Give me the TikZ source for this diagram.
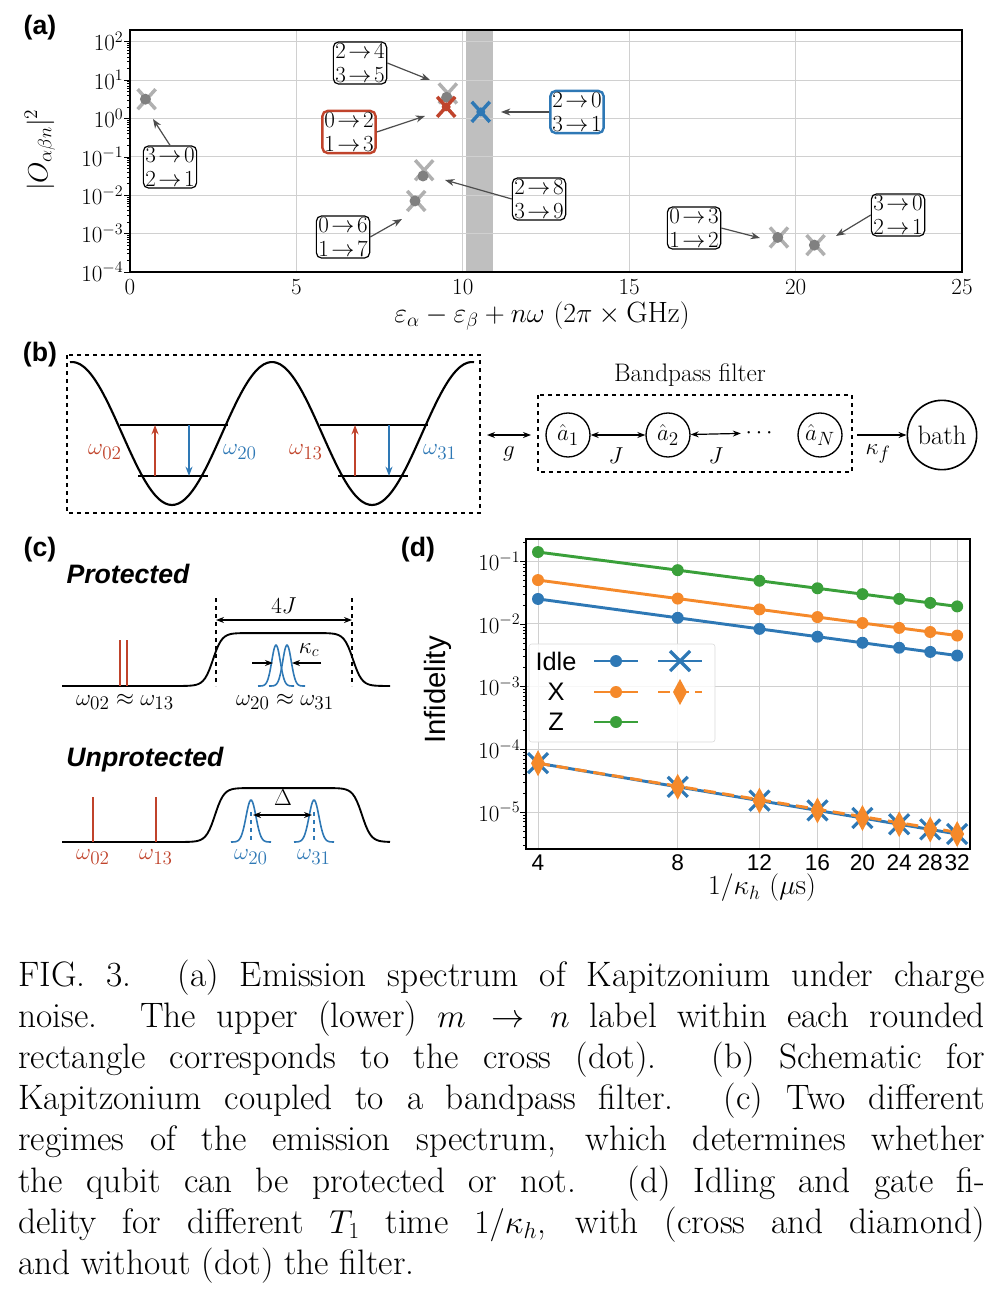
\documentclass[tikz,border=0pt]{standalone}
\usepackage{fontspec}
\setsansfont{Liberation Sans}
\usetikzlibrary{arrows.meta}
\definecolor{cred}{HTML}{C0432B}
\definecolor{cblue}{HTML}{2E78B5}
\definecolor{cgreen}{HTML}{3AA03A}
\definecolor{corange}{HTML}{F5892A}
\definecolor{cgray}{HTML}{808080}
\definecolor{clgray}{HTML}{B0B0B0}
\definecolor{cgrid}{HTML}{D0D0D0}
\begin{document}
\begin{tikzpicture}[x=0.75pt,y=-0.75pt,
  declare function={ax(\x)=130+33.28*\x; ay(\d)=272-38.4*(\d+4);
    dx(\v)=538+139.7*ln(\v/4)/ln(2); dy(\d)=812-62.7*(\d+5);
    sg(\t)=1/(1+exp(-max(-8,min(8,\t))));},
  plab/.style={font=\sffamily\bfseries\fontsize{20}{22}\selectfont},
  tick/.style={font=\fontsize{18.5}{20}\selectfont},
  stick/.style={font=\sffamily\fontsize{17}{19}\selectfont},
  lbox/.style={draw,rounded corners=4pt,line width=0.9pt,align=center,inner sep=1.5pt,font=\fontsize{18}{17.5}\selectfont},
  parr/.style={-{Stealth[length=7pt]},draw=black!70,line width=0.9pt},
  gx/.style={clgray,line width=2.6pt},
  grid/.style={cgrid,line width=0.7pt},
  dbl/.style={{Stealth[length=6pt]}-{Stealth[length=6pt]},line width=0.9pt},
  lt/.style={font=\fontsize{19}{20}\selectfont},
  capline/.style={anchor=west,font=\fontsize{26.5}{30}\selectfont,inner sep=0pt}]
\useasboundingbox (0,0) rectangle (1006,1298);
%%%%%%%%%%%%%%%% (a)
\node[plab] (la) at (40,28) {(a)};
\fill[black!25] ({ax(10.1)},30) rectangle ({ax(10.9)},272);
\foreach \t in {5,10,15,20} \draw[grid] ({ax(\t)},30) -- ({ax(\t)},272);
\foreach \d in {-3,...,2} \draw[grid] (130,{ay(\d)}) -- (962,{ay(\d)});
\draw[line width=1pt] (130,30) rectangle (962,272);
\foreach \t in {0,5,...,25} \node[tick,anchor=north,inner sep=1pt] (xa\t) at ({ax(\t)},278) {$\t$};
\foreach \d in {-4,...,2} {
  \node[tick,anchor=east,inner sep=1pt] (ya\d) at (125,{ay(\d)}) {$10^{\d}$};
  \draw (130,{ay(\d)}) -- (124,{ay(\d)});}
\foreach \d in {-4,...,1} \foreach \k in {2,...,9} \draw (130,{ay(\d+log10(\k))}) -- (127,{ay(\d+log10(\k))});
\node[font=\fontsize{22}{23}\selectfont,rotate=90] (yla) at (40,150) {$|O_{\alpha\beta n}|^2$};
\node[font=\fontsize{22}{23}\selectfont] (xla) at (542,316) {$\varepsilon_\alpha-\varepsilon_\beta+n\omega\ (2\pi\times\mathrm{GHz})$};
% markers
\foreach \xx/\cc/\dd in {0.5/0.5/0.5, 9.55/0.65/0.55, 8.84/-1.35/-1.5, 8.6/-2.15/-2.15, 19.5/-3.1/-3.1, 20.6/-3.3/-3.3} {
  \pgfmathsetmacro\px{ax(\xx)}\pgfmathsetmacro\py{ay(\cc)}\pgfmathsetmacro\qy{ay(\dd)}
  \draw[gx] (\px-9,\py-10) -- (\px+9,\py+10) (\px-9,\py+10) -- (\px+9,\py-10);
  \fill[cgray] (\px-1.2,\qy) circle (5.5);}
\pgfmathsetmacro\px{ax(9.5)}\pgfmathsetmacro\py{ay(0.3)}
\draw[cred,line width=2.6pt] (\px-9,\py-10) -- (\px+9,\py+10) (\px-9,\py+10) -- (\px+9,\py-10);
\fill[cred] (\px,\py) circle (4.5);
\pgfmathsetmacro\px{ax(10.54)}\pgfmathsetmacro\py{ay(0.17)}
\draw[cblue,line width=2.6pt] (\px-9,\py-10) -- (\px+9,\py+10) (\px-9,\py+10) -- (\px+9,\py-10);
\fill[cblue] (\px,\py) circle (4.5);
% boxes
\node[lbox] (b24) at (360,63) {$2\!\rightarrow\!4$\\$3\!\rightarrow\!5$};
\node[lbox,draw=cred,line width=1.8pt] (b02) at (349,132) {$0\!\rightarrow\!2$\\$1\!\rightarrow\!3$};
\node[lbox,draw=cblue,line width=1.8pt] (b20) at (577,112) {$2\!\rightarrow\!0$\\$3\!\rightarrow\!1$};
\node[lbox] (b30) at (170,167) {$3\!\rightarrow\!0$\\$2\!\rightarrow\!1$};
\node[lbox] (b28) at (539,199) {$2\!\rightarrow\!8$\\$3\!\rightarrow\!9$};
\node[lbox] (b06) at (343,237) {$0\!\rightarrow\!6$\\$1\!\rightarrow\!7$};
\node[lbox] (b03) at (694,228) {$0\!\rightarrow\!3$\\$1\!\rightarrow\!2$};
\node[lbox] (b30r) at (898,215) {$3\!\rightarrow\!0$\\$2\!\rightarrow\!1$};
\coordinate (t24) at (430,80); \coordinate (t02) at (425,116);
\coordinate (t20) at (501,112); \coordinate (t30) at (153,119);
\coordinate (t28) at (445,180); \coordinate (t06) at (402,219);
\coordinate (t03) at (760,238); \coordinate (t30r) at (836,236);
\draw[parr] (b24.east) -- (t24);
\draw[parr] (b02.east) -- (t02);
\draw[parr] (b20.west) -- (t20);
\draw[parr] (b30.north) -- (t30);
\draw[parr] (b28.west) -- (t28);
\draw[parr] (b06.east) -- (t06);
\draw[parr] (b03.east) -- (t03);
\draw[parr] (b30r.west) -- (t30r);
%%%%%%%%%%%%%%%% (b)
\node[plab] (lb) at (40,355) {(b)};
\draw[dashed,line width=0.9pt] (67,355) rectangle (480,513);
\draw[line width=1.6pt] plot[domain=70:474,samples=120,smooth] (\x,{433.5+71.5*cos(1.8*(\x-172))});
\foreach \o in {0,200} {
  \draw[line width=1.6pt] (120+\o,425) -- (228+\o,425) (138+\o,476) -- (208+\o,476);
  \draw[cred,line width=1.5pt,-{Stealth[length=7pt]}] (155+\o,476) -- (155+\o,425);
  \draw[cblue,line width=1.5pt,-{Stealth[length=7pt]}] (189+\o,425) -- (189+\o,476);}
\node[cred,lt] (w02b) at (105,452) {$\omega_{02}$};
\node[cblue,lt] (w20b) at (240,452) {$\omega_{20}$};
\node[cred,lt] (w13b) at (306,452) {$\omega_{13}$};
\node[cblue,lt] (w31b) at (440,452) {$\omega_{31}$};
\coordinate (gL) at (487,435); \coordinate (gR) at (531,435);
\draw[dbl] (gL) -- (gR);
\node[lt] (g) at (509,454) {$g$};
\draw[dashed,line width=0.9pt] (538,395) rectangle (852,472);
\node[lt] (bf) at (690,375) {Bandpass filter};
\node[draw,circle,minimum size=33pt,inner sep=0pt,line width=1pt,lt] (a1) at (568,435) {$\hat a_1$};
\node[draw,circle,minimum size=33pt,inner sep=0pt,line width=1pt,lt] (a2) at (668,435) {$\hat a_2$};
\node[draw,circle,minimum size=33pt,inner sep=0pt,line width=1pt,lt] (aN) at (820,435) {$\hat a_N$};
\node[lt] (dots) at (759,433) {$\cdots$};
\node[draw,circle,minimum size=52pt,inner sep=0pt,line width=1.2pt,font=\fontsize{20}{21}\selectfont] (bath) at (942,435) {bath};
\draw[dbl] (a1) -- (a2);
\draw[dbl] (a2) -- (dots);
\coordinate (kfs) at (857,435);
\draw[-{Stealth[length=6pt]},line width=0.9pt] (kfs) -- (bath);
\node[lt] (J1) at (616,456) {$J$};
\node[lt] (J2) at (716,456) {$J$};
\node[lt] (kf) at (878,454) {$\kappa_f$};
%%%%%%%%%%%%%%%% (c)
\node[plab] (lc) at (40,550) {(c)};
\node[font=\sffamily\bfseries\itshape\fontsize{20}{22}\selectfont] (prot) at (128,574) {Protected};
\draw[line width=1.4pt] plot[domain=62:390,samples=150] (\x,{686-53*sg((\x-213)/4.5)*sg((353-\x)/4.5)});
\draw[cred,line width=1.5pt] (120,640) -- (120,686) (127,640) -- (127,686);
\foreach \m in {276,287} \draw[cblue,line width=1.2pt] plot[domain=\m-18:\m+18,samples=40,smooth] (\x,{686-41*exp(-((\x-\m)/6)^2)});
\coordinate (dL) at (216,598); \coordinate (dR) at (352,598);
\draw[dashed,line width=0.9pt] (dL) -- (216,686) (dR) -- (352,686);
\draw[dbl] (216,620) -- (352,620);
\node[lt] (fourJ) at (284,606) {$4J$};
\draw[-{Stealth[length=6pt]},line width=0.9pt] (252,663) -- (273,663);
\draw[-{Stealth[length=6pt]},line width=0.9pt] (321,663) -- (292,663);
\node[font=\fontsize{17}{18}\selectfont] (kc) at (309,650) {$\kappa_c$};
\node[lt] (wp1) at (125,702) {$\omega_{02}\approx\omega_{13}$};
\node[lt] (wp2) at (285,702) {$\omega_{20}\approx\omega_{31}$};
\node[font=\sffamily\bfseries\itshape\fontsize{20}{22}\selectfont] (unprot) at (145,760) {Unprotected};
\draw[line width=1.4pt] plot[domain=62:390,samples=150] (\x,{842-54*sg((\x-215)/4.5)*sg((362-\x)/4.5)});
\draw[cred,line width=1.5pt] (93,797) -- (93,842) (156,797) -- (156,842);
\foreach \m in {251,314} {
  \draw[cblue,line width=1.2pt] plot[domain=\m-20:\m+20,samples=40,smooth] (\x,{842-42*exp(-((\x-\m)/7)^2)});
  \draw[cblue,dashed,line width=1pt] (\m,812) -- (\m,842);}
\draw[dbl] (253,815) -- (312,815);
\node[lt] (Del) at (283,798) {$\Delta$};
\node[cred,lt] (wu1) at (93,857) {$\omega_{02}$};
\node[cred,lt] (wu2) at (156,857) {$\omega_{13}$};
\node[cblue,lt] (wu3) at (251,857) {$\omega_{20}$};
\node[cblue,lt] (wu4) at (314,857) {$\omega_{31}$};
%%%%%%%%%%%%%%%% (d)
\node[plab] (ld) at (418,550) {(d)};
\foreach \v in {4,8,...,32} \draw[grid] ({dx(\v)},539) -- ({dx(\v)},849);
\foreach \d in {-5,...,-1} \draw[grid] (526,{dy(\d)}) -- (970,{dy(\d)});
\foreach \v in {4,8,...,32} \node[stick,anchor=north,inner sep=1pt] (xd\v) at ({dx(\v)},853) {\v};
\foreach \d in {-5,...,-1} {
  \node[tick,anchor=east,inner sep=1pt] (yd\d) at (522,{dy(\d)}) {$10^{\d}$};
  \draw (526,{dy(\d)}) -- (520,{dy(\d)});}
\begin{scope}
\clip (500,539) rectangle (540,849);
\foreach \d in {-6,...,-1} \foreach \k in {2,...,9} \draw (526,{dy(\d+log10(\k))}) -- (523,{dy(\d+log10(\k))});
\end{scope}
\node[font=\sffamily\fontsize{22}{23}\selectfont,rotate=90] (yld) at (438,690) {Infidelity};
\node[font=\fontsize{22}{23}\selectfont] (xld) at (762,888) {$1/\kappa_h\ (\mu\mathrm{s})$};
\foreach \a/\p/\c in {-0.854/0.96/cgreen, -1.301/0.98/corange, -1.602/1.0/cblue} {
  \draw[\c,line width=2.2pt] ({dx(4)},{dy(\a)}) -- ({dx(32)},{dy(\a-\p*log10(8))});
  \foreach \v in {4,8,...,32} \fill[\c] ({dx(\v)},{dy(\a-\p*log10(\v/4))}) circle (6);}
\draw[cblue,line width=2.2pt] ({dx(4)},{dy(-4.222)}) -- ({dx(32)},{dy(-4.222-1.25*log10(8))});
\draw[corange,line width=2.2pt,dash pattern=on 9pt off 5pt] ({dx(4)},{dy(-4.222)}) -- ({dx(32)},{dy(-4.222-1.22*log10(8))});
\foreach \v in {4,8,...,32} {
  \pgfmathsetmacro\px{dx(\v)}\pgfmathsetmacro\py{dy(-4.222-1.25*log10(\v/4))}
  \draw[cblue,line width=2.4pt] (\px-10,\py-10) -- (\px+10,\py+10) (\px-10,\py+10) -- (\px+10,\py-10);
  \fill[corange] (\px,\py-13) -- (\px+7,\py) -- (\px,\py+13) -- (\px-7,\py) -- cycle;}
\draw[line width=1pt] (526,539) rectangle (970,849);
% legend
\draw[fill=white,fill opacity=0.85,draw=black!15,rounded corners=2pt] (529,644) rectangle (715,742);
\node[font=\sffamily\fontsize{19}{20}\selectfont] (Lidle) at (556,661) {Idle};
\node[font=\sffamily\fontsize{19}{20}\selectfont] (LX) at (556,692) {X};
\node[font=\sffamily\fontsize{19}{20}\selectfont] (LZ) at (556,722) {Z};
\foreach \c/\y in {cblue/661, corange/692, cgreen/722} {
  \draw[\c,line width=2.2pt] (594,\y) -- (638,\y); \fill[\c] (616,\y) circle (6);}
\draw[cblue,line width=2.2pt] (658,661) -- (702,661);
\draw[cblue,line width=2.4pt] (670,651) -- (690,671) (670,671) -- (690,651);
\draw[corange,line width=2.2pt,dash pattern=on 9pt off 5pt] (658,692) -- (702,692);
\fill[corange] (680,679) -- (687,692) -- (680,705) -- (673,692) -- cycle;
%%%%%%%%%%%%%%%% caption
\node[capline] (c1) at (18,978) {\hbox to 725pt{FIG. 3. (a) Emission spectrum of Kapitzonium under charge}};
\node[capline] (c2) at (18,1019) {\hbox to 725pt{noise. The upper (lower) $m\rightarrow n$ label within each rounded}};
\node[capline] (c3) at (18,1060) {\hbox to 725pt{rectangle corresponds to the cross (dot). (b) Schematic for}};
\node[capline] (c4) at (18,1101) {\hbox to 725pt{Kapitzonium coupled to a bandpass filter. (c) Two different}};
\node[capline] (c5) at (18,1142) {\hbox to 725pt{regimes of the emission spectrum, which determines whether}};
\node[capline] (c6) at (18,1184) {\hbox to 725pt{the qubit can be protected or not. (d) Idling and gate fi-}};
\node[capline] (c7) at (18,1225) {\hbox to 725pt{delity for different $T_1$ time $1/\kappa_h$, with (cross and diamond)}};
\node[capline] (c8) at (18,1266) {and without (dot) the filter.};
\end{tikzpicture}
\end{document}
